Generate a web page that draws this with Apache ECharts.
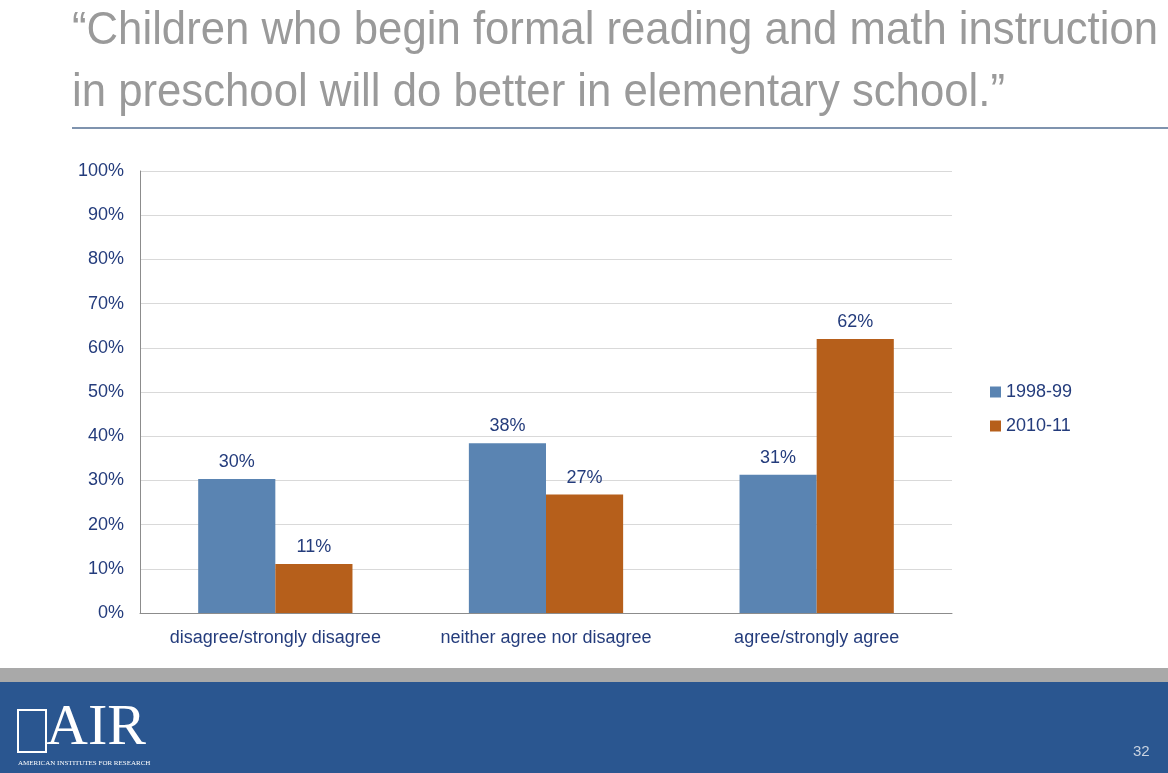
<!DOCTYPE html>
<html style="height: 100%">
<head><meta charset="utf-8"></head>
<body style="height: 100%; margin: 0; background: #fff">
<div id="container" style="width: 1168px; height: 773px"></div>
<script src="https://cdn.jsdelivr.net/npm/echarts@6/dist/echarts.min.js"></script>
<script>
var categories = ['disagree/strongly disagree', 'neither agree nor disagree', 'agree/strongly agree'];
var seriesNames = ['1998-99', '2010-11'];
var values9899 = [30.3, 38.4, 31.3];
var values1011 = [11.1, 26.8, 62.0];
var colors = ['#5a84b2', '#b65f1b'];

var chart = echarts.init(document.getElementById('container'));
var labelStyle = {
    show: true, position: 'top', distance: 8, color: '#243c7c', fontSize: 18,
    formatter: function (p) { return Math.round(p.value) + '%'; }
};
chart.setOption({
    animation: false,
    textStyle: { fontFamily: 'Liberation Sans, Arial' },
    graphic: [
        { type: 'text', x: 72, y: 8, scaleX: 0.93, style: { text: '\u201cChildren who begin formal reading and math instruction', fill: '#9a9a9a', fontSize: 47, fontFamily: 'Liberation Sans, Arial' } },
        { type: 'text', x: 72, y: 70, scaleX: 0.93, style: { text: 'in preschool will do better in elementary school.\u201d', fill: '#9a9a9a', fontSize: 47, fontFamily: 'Liberation Sans, Arial' } },
        { type: 'rect', shape: { x: 72, y: 127, width: 1096, height: 2 }, style: { fill: '#7f93ae' } },
        { type: 'rect', shape: { x: 0, y: 668, width: 1168, height: 14 }, style: { fill: '#a9a9a9' } },
        { type: 'rect', shape: { x: 0, y: 682, width: 1168, height: 91 }, style: { fill: '#2a5690' } },
        { type: 'rect', shape: { x: 18, y: 710, width: 28, height: 42 }, style: { fill: 'none', stroke: '#fff', lineWidth: 2 } },
        { type: 'text', x: 46, y: 700, style: { text: 'AIR', fill: '#fff', fontSize: 58, fontFamily: 'Liberation Serif, Times New Roman' } },
        { type: 'text', x: 18, y: 760, style: { text: 'AMERICAN INSTITUTES FOR RESEARCH', fill: '#fff', fontSize: 7, fontFamily: 'Liberation Serif' } },
        { type: 'text', x: 1133, y: 744, style: { text: '32', fill: '#c8d2e0', fontSize: 15 } }
    ],
    grid: { left: 140, right: 216, top: 171, bottom: 160 },
    legend: {
        orient: 'vertical', left: 985, top: 378, itemGap: 16, itemWidth: 11, itemHeight: 11, icon: 'rect',
        textStyle: { color: '#243c7c', fontSize: 18 },
        data: seriesNames
    },
    xAxis: {
        type: 'category', data: categories,
        axisLine: { lineStyle: { color: '#8c8c8c' } },
        axisTick: { show: false },
        axisLabel: { color: '#243c7c', fontSize: 18, margin: 16, interval: 0, hideOverlap: false }
    },
    yAxis: {
        type: 'value', min: 0, max: 100, interval: 10,
        axisLine: { show: true, lineStyle: { color: '#8c8c8c' } },
        splitLine: { lineStyle: { color: '#d9d9d9' } },
        axisLabel: { color: '#243c7c', fontSize: 18, margin: 16, formatter: '{value}%' }
    },
    series: [
        { name: seriesNames[0], type: 'bar', data: values9899, barGap: '0%', barCategoryGap: '43%', itemStyle: { color: colors[0] }, label: labelStyle },
        { name: seriesNames[1], type: 'bar', data: values1011, itemStyle: { color: colors[1] }, label: labelStyle }
    ]
});
</script>
</body>
</html>
